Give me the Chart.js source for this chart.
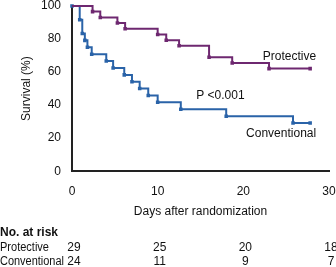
<!DOCTYPE html>
<html>
<head>
<meta charset="utf-8">
<script src="https://cdn.jsdelivr.net/npm/chart.js@4/dist/chart.umd.min.js"></script>
<style>
  html, body { margin: 0; padding: 0; background: #fff; }
  #wrap { width: 336px; height: 267px; position: relative; }
</style>
</head>
<body>
<div id="wrap"><canvas id="km" width="336" height="267"></canvas></div>
<script>
// Kaplan-Meier steps (day, survival %)
const protectiveDays = [0, 2.4, 3.3, 5.3, 6.2, 10.0, 11.0, 12.5, 16.0, 18.7, 23.0, 27.8];
const protectiveSurv = [100, 96.6, 93.1, 89.7, 86.2, 82.8, 79.3, 75.9, 69.0, 65.5, 62.1, 62.1];

const conventionalDays = [0, 0.9, 1.2, 1.5, 1.8, 2.3, 4.0, 4.8, 6.1, 7.0, 7.9, 8.9, 10.0, 12.7, 18.0, 25.8, 27.8];
const conventionalSurv = [100, 91.7, 83.3, 79.2, 75.0, 70.8, 66.7, 62.5, 58.3, 54.2, 50.0, 45.8, 41.7, 37.5, 33.3, 29.2, 29.2];

const riskDays = [0, 10, 20, 30];
const riskProtective = [29, 25, 20, 18];
const riskConventional = [24, 11, 9, 7];

const purple = '#6e2870';
const blue = '#2a63a8';
const font = '"Liberation Sans", Arial, sans-serif';

function toPoints(days, surv) {
    return days.map((d, i) => ({ x: d, y: surv[i] }));
}

// text labels placed in data coordinates
const curveLabels = [
    { text: 'Protective', x: 28.5, y: 69.5, align: 'right' },
    { text: 'P <0.001', x: 14.5, y: 46, align: 'left' },
    { text: 'Conventional', x: 28.5, y: 22.5, align: 'right' }
];

const labelsPlugin = {
    id: 'labels',
    afterDraw(chart) {
        const ctx = chart.ctx;
        const xs = chart.scales.x;
        const ys = chart.scales.y;
        ctx.save();
        ctx.fillStyle = '#111';
        ctx.font = '12px ' + font;
        ctx.textBaseline = 'middle';
        curveLabels.forEach(l => {
            ctx.textAlign = l.align;
            ctx.fillText(l.text, xs.getPixelForValue(l.x), ys.getPixelForValue(l.y));
        });

        // number at risk table
        ctx.textAlign = 'left';
        ctx.font = 'bold 12px ' + font;
        ctx.fillText('No. at risk', 0, 233, 59);
        ctx.font = '12px ' + font;
        ctx.fillText('Protective', 0, 248, 49);
        ctx.fillText('Conventional', 0, 262, 64);
        ctx.textAlign = 'center';
        riskDays.forEach((d, i) => {
            const px = xs.getPixelForValue(d) + 2;
            ctx.fillText(String(riskProtective[i]), px, 248);
            ctx.fillText(String(riskConventional[i]), px, 262);
        });
        ctx.restore();
    }
};

new Chart(document.getElementById('km'), {
    type: 'line',
    data: {
        datasets: [
            {
                label: 'Protective',
                data: toPoints(protectiveDays, protectiveSurv),
                borderColor: purple,
                backgroundColor: purple,
                borderWidth: 2,
                stepped: true,
                clip: 6,
                order: 0,
                pointStyle: 'rect',
                pointRadius: c => (c.dataIndex === 0 ? 0 : 2.5),
                pointBorderWidth: 0
            },
            {
                label: 'Conventional',
                data: toPoints(conventionalDays, conventionalSurv),
                borderColor: blue,
                backgroundColor: blue,
                borderWidth: 2,
                stepped: true,
                clip: 6,
                order: 1,
                pointStyle: 'rect',
                pointRadius: 2.5,
                pointBorderWidth: 0
            }
        ]
    },
    options: {
        responsive: false,
        animation: false,
        devicePixelRatio: 1,
        layout: { padding: { top: 0, right: 7, bottom: 48, left: 0 } },
        plugins: {
            legend: { display: false },
            tooltip: { enabled: false }
        },
        scales: {
            x: {
                type: 'linear',
                min: 0,
                max: 30,
                ticks: { stepSize: 10, color: '#111', font: { family: font, size: 12 }, padding: 8, maxRotation: 0 },
                grid: { display: false, drawTicks: true, tickLength: 5, tickColor: '#222' },
                border: { color: '#222', width: 2 },
                title: { display: true, text: 'Days after randomization', color: '#111', font: { family: font, size: 12 }, padding: { top: -2, bottom: 0 } },
                afterFit(scale) {
                    scale.paddingRight = 0;
                    scale.paddingLeft = 0;
                }
            },
            y: {
                min: 0,
                max: 100,
                ticks: { stepSize: 20, color: '#111', font: { family: font, size: 12 }, padding: 5 },
                grid: { display: false, drawTicks: true, tickLength: 6, tickColor: '#222' },
                border: { color: '#222', width: 2 },
                title: { display: true, text: 'Survival (%)', color: '#111', font: { family: font, size: 12 }, padding: { top: 19, bottom: 6 } },
                afterFit(scale) {
                    scale.width = 72;
                    scale.paddingTop = 6;
                }
            }
        }
    },
    plugins: [labelsPlugin]
});
</script>
</body>
</html>
